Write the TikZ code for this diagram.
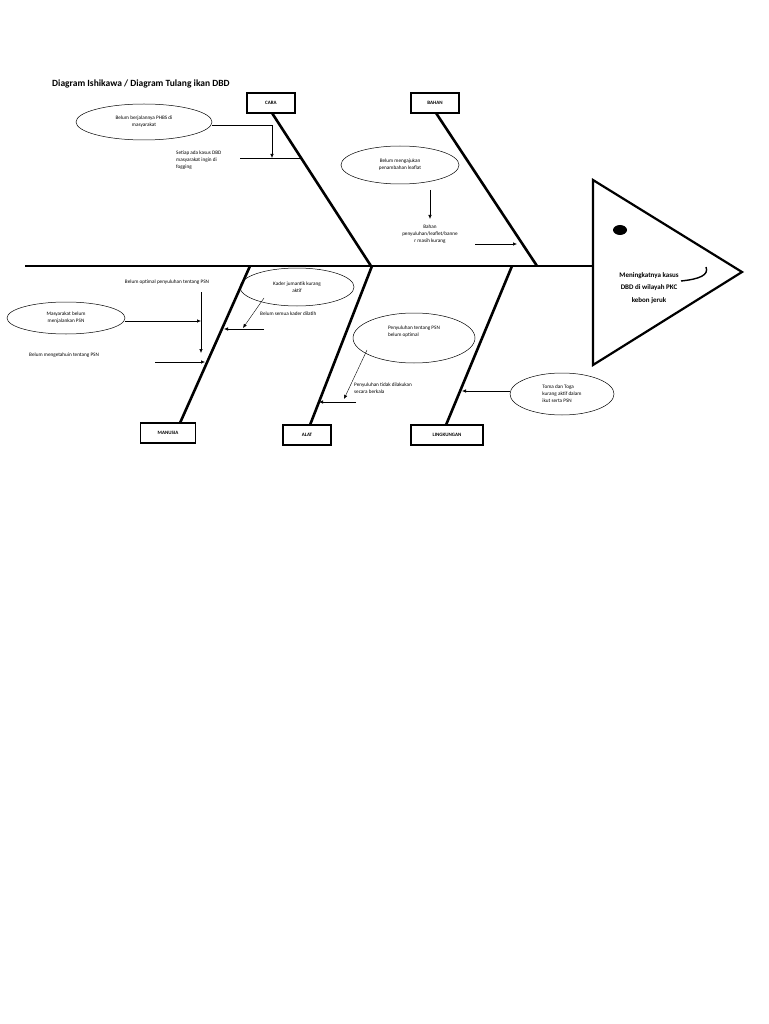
\documentclass[tikz,border=0pt]{standalone}
\usepackage{fontspec}
\setmainfont{Carlito}
\usetikzlibrary{arrows.meta}
\begin{document}
\begin{tikzpicture}[x=1pt,y=-1pt,
 bone/.style={line width=2.6pt},
 catbox/.style={draw,line width=1.8pt,minimum width=48pt,minimum height=20pt,font=\bfseries\fontsize{5}{6}\selectfont,inner sep=1pt},
 oval/.style={draw,ellipse,line width=0.5pt,font=\fontsize{5.2}{7}\selectfont,align=center,inner sep=0pt},
 lbl/.style={font=\fontsize{5.2}{7}\selectfont,align=left,inner sep=0pt},
 arr/.style={-{Latex[length=4pt,width=3.5pt]},line width=0.6pt}]
\useasboundingbox (0,0) rectangle (768,1024);
\usetikzlibrary{shapes.geometric}
\node[anchor=west,font=\bfseries\fontsize{9.5}{11}\selectfont,inner sep=0pt] (title) at (52,84) {Diagram Ishikawa / Diagram Tulang ikan DBD};
% spine and head
\coordinate (sL) at (25,266); \coordinate (sR) at (593,266);
\draw[bone] (sL) -- (sR);
\draw[line width=2.2pt,line join=miter] (593,180) -- (742,272) -- (593,365) -- cycle;
\fill (620,230) ellipse (7 and 5);
\node[font=\bfseries\fontsize{7}{12.5}\selectfont,align=center,inner sep=0pt] (effect) at (649,288) {Meningkatnya kasus\\DBD di wilayah PKC\\kebon jeruk};
\draw[line width=1.4pt] (681,281) .. controls (700,279) and (709,275) .. (706,267);
% categories
\node[catbox] (cara) at (271,103) {CARA};
\node[catbox] (bahan) at (435,103) {BAHAN};
\node[catbox,minimum width=55pt] (manusia) at (168,433) {MANUSIA};
\node[catbox] (alat) at (307,435) {ALAT};
\node[catbox,minimum width=72pt] (ling) at (447,435) {LINGKUNGAN};
\coordinate (jc) at (371,266); \coordinate (jb) at (537,266);
\coordinate (jm) at (250,266); \coordinate (ja) at (372,266); \coordinate (jl) at (512,266);
\draw[bone] (272,113) -- (jc);
\draw[bone] (436,113) -- (jb);
\draw[bone] (180,423) -- (jm);
\draw[bone] (310,425) -- (ja);
\draw[bone] (446,425) -- (jl);
% CARA
\node[oval,minimum width=136pt,minimum height=36pt] (e1) at (144,122) {Belum berjalannya PHBS di\\masyarakat};
\coordinate (c1) at (272,158);
\draw[arr] (e1.east |- 0,125) -| (c1);
\node[lbl,anchor=north west] (t1) at (176,151) {Setiap ada kasus DBD\\masyarakat ingin di\\fogging};
\coordinate (c1a) at (240,158); \coordinate (c1b) at (302,158);
\draw[line width=0.6pt] (c1a) -- (c1b);
% BAHAN
\node[oval,minimum width=118pt,minimum height=38pt] (e2) at (400,165) {Belum mengajukan\\penambahan leaflat};
\node[lbl,align=center] (t2) at (430,234) {Bahan\\penyuluhan/leaflet/banne\\r masih kurang};
\coordinate (c2) at (430,219);
\draw[arr] (430,190) -- (c2);
\coordinate (c2a) at (475,244); \coordinate (c2b) at (517,244);
\draw[arr] (c2a) -- (c2b);
% MANUSIA
\node[lbl] (t3) at (167,282) {Belum optimal penyuluhan tentang PSN};
\coordinate (c3a) at (201,292); \coordinate (c3b) at (201,353);
\draw[arr] (c3a) -- (c3b);
\node[oval,minimum width=118pt,minimum height=32pt] (e4) at (66,318) {Masyarakat belum\\menjalankan PSN};
\coordinate (c4) at (201,321);
\draw[arr] (e4.east |- 0,321) -- (c4);
\node[lbl,anchor=west] (t5) at (29,355) {Belum mengetahuin tentang PSN};
\coordinate (c5a) at (155,362); \coordinate (c5b) at (205,362);
\draw[arr] (c5a) -- (c5b);
\node[oval,minimum width=114pt,minimum height=38pt] (e6) at (297,287) {Kader jumantik kurang\\aktif};
\coordinate (c6a) at (264,298); \coordinate (c6b) at (243,328);
\draw[arr,line width=0.4pt] (c6a) -- (c6b);
\node[lbl,anchor=west] (t6) at (260,314) {Belum semua kader dilatih};
\coordinate (c6c) at (264,329); \coordinate (c6d) at (224,329);
\draw[arr] (c6c) -- (c6d);
% ALAT
\node[oval,minimum width=122pt,minimum height=50pt,align=left] (e7) at (414,338) {Penyuluhan tentang PSN\\belum optimal\\[6pt]};
\coordinate (c7a) at (367,350); \coordinate (c7b) at (344,399);
\draw[arr,line width=0.4pt] (c7a) -- (c7b);
\node[lbl,anchor=north west] (t7) at (354,383) {Penyuluhan tidak dilakukan\\secara berkala};
\coordinate (c7c) at (356,402); \coordinate (c7d) at (319,402);
\draw[arr] (c7c) -- (c7d);
% LINGKUNGAN
\node[oval,minimum width=104pt,minimum height=42pt,align=left] (e8) at (562,394) {Toma dan Toga\\kurang aktif dalam\\ikut serta PSN};
\coordinate (c8) at (462,391);
\draw[arr] (e8.west |- 0,391) -- (c8);
\end{tikzpicture}
\end{document}
